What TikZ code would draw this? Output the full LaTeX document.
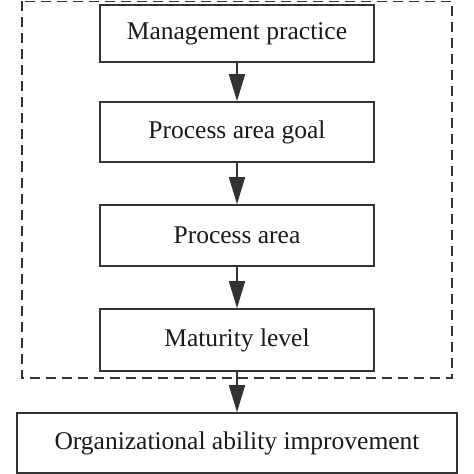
\documentclass[tikz,border=0pt]{standalone}
\usepackage{fontspec}
\setmainfont{Liberation Serif}
\usetikzlibrary{arrows.meta}
\definecolor{linec}{HTML}{333333}
\definecolor{textc}{HTML}{1A1A1A}
\begin{document}
\begin{tikzpicture}[x=1bp,y=-1bp,
  stepbox/.style={draw=linec,line width=1.6bp,fill=white,inner sep=0pt,
    minimum width=274bp,text=textc,font=\fontsize{25.5bp}{30bp}\selectfont},
  flow/.style={draw=linec,line width=1.6bp,-{Triangle[length=27bp,width=16bp]},fill=black!90},
  frame/.style={draw=linec,line width=1.5bp,dash pattern=on 10bp off 6bp}
]
\useasboundingbox (0,0) rectangle (474,474);
\fill[white] (0,0) rectangle (474,474);
\draw[frame] (22,1.5) rectangle (452,378);
\node[stepbox,minimum height=57bp] (mp) at (237,33.5) {Management practice};
\node[stepbox,minimum height=60bp] (pag) at (237,132) {Process area goal};
\node[stepbox,minimum height=61bp] (pa) at (237,235.5) {Process area};
\node[stepbox,minimum height=62bp] (ml) at (237,340) {Maturity level};
\node[stepbox,minimum height=60bp,minimum width=440bp] (oai) at (237,443) {Organizational ability improvement};
\draw[flow] (mp) -- (pag);
\draw[flow] (pag) -- (pa);
\draw[flow] (pa) -- (ml);
\draw[flow] (ml) -- (oai);
\end{tikzpicture}
\end{document}
